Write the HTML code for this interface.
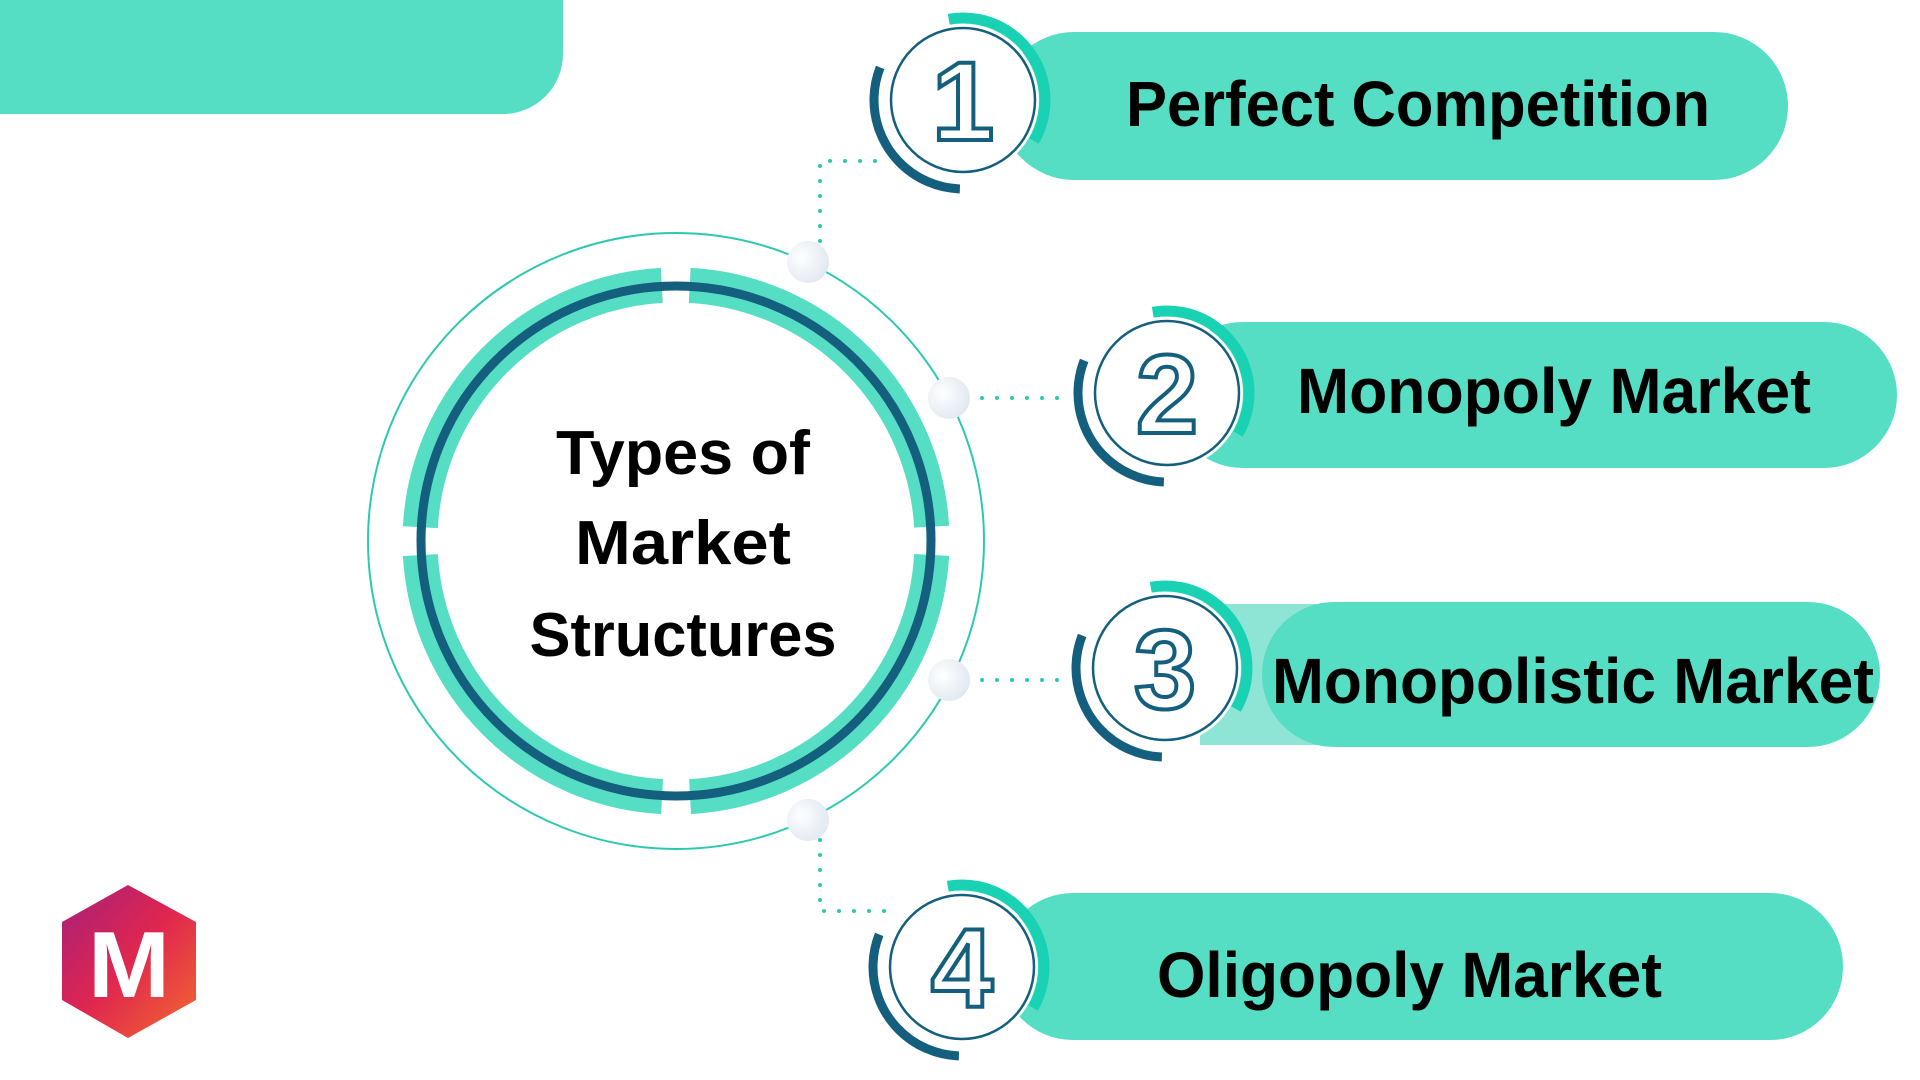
<!DOCTYPE html>
<html><head><meta charset="utf-8"><style>
html,body{margin:0;padding:0;background:#fff;width:1920px;height:1080px;overflow:hidden}
svg{display:block}
text{font-family:"Liberation Sans",sans-serif;font-weight:bold}
</style></head><body>
<svg width="1920" height="1080" viewBox="0 0 1920 1080" xmlns="http://www.w3.org/2000/svg">
<defs>
<radialGradient id="sc" cx="0.35" cy="0.4" r="0.7"><stop offset="0" stop-color="#ffffff"/><stop offset="1" stop-color="#dfe7ef"/></radialGradient>
<linearGradient id="hx" x1="0" y1="0" x2="1" y2="1"><stop offset="0" stop-color="#a61f7a"/><stop offset="0.5" stop-color="#e0264f"/><stop offset="1" stop-color="#f26a2e"/></linearGradient>
</defs>
<rect x="-80" y="-60" width="643" height="174" rx="60" fill="#55dec4"/>

<rect x="1000" y="32" width="788" height="148" rx="74" fill="#55dec4"/>
<rect x="1170" y="322" width="727" height="146" rx="73" fill="#55dec4"/>
<rect x="1200" y="604" width="300" height="141" fill="#8ee5d5"/>
<rect x="1262" y="602" width="618" height="145" rx="72" fill="#55dec4"/>
<rect x="1000" y="893" width="843" height="147" rx="73" fill="#55dec4"/>

<circle cx="676" cy="541" r="308" fill="none" stroke="#2cc9b0" stroke-width="2"/>
<circle cx="676" cy="541" r="256" fill="none" stroke="#55dec4" stroke-width="35" stroke-dasharray="374 28" stroke-dashoffset="-14"/>
<circle cx="676" cy="541" r="255" fill="none" stroke="#145f7e" stroke-width="9"/>
<circle cx="676" cy="541" r="238" fill="#fff"/>

<g stroke="#2cc9b0" stroke-width="4" stroke-linecap="round" stroke-dasharray="0 15" fill="none">
<path d="M820 241 V161 H890"/>
<path d="M820 840 V911 H890"/>
<path d="M982 398 H1068"/>
<path d="M982 680 H1068"/>
</g>
<circle cx="808" cy="262" r="21" fill="url(#sc)"/>
<circle cx="949" cy="398" r="21" fill="url(#sc)"/>
<circle cx="949" cy="680" r="21" fill="url(#sc)"/>
<circle cx="808" cy="820" r="21" fill="url(#sc)"/>

<g transform="translate(963,100)">
<circle r="76" fill="#fff"/>
<circle r="72" fill="none" stroke="#145f7e" stroke-width="2.5"/>
<circle r="82" fill="none" stroke="#19d2b4" stroke-width="11" stroke-dasharray="186 400" transform="rotate(-100)"/>
<circle r="89" fill="none" stroke="#145f7e" stroke-width="9" stroke-dasharray="170 420" transform="rotate(92)"/>
<text x="0" y="40" text-anchor="middle" font-size="112" fill="#fff" stroke="#145f7e" stroke-width="4">1</text>
</g>
<g transform="translate(1167,393)">
<circle r="76" fill="#fff"/>
<circle r="72" fill="none" stroke="#145f7e" stroke-width="2.5"/>
<circle r="82" fill="none" stroke="#19d2b4" stroke-width="11" stroke-dasharray="186 400" transform="rotate(-100)"/>
<circle r="89" fill="none" stroke="#145f7e" stroke-width="9" stroke-dasharray="170 420" transform="rotate(92)"/>
<text x="0" y="40" text-anchor="middle" font-size="112" fill="#fff" stroke="#145f7e" stroke-width="4">2</text>
</g>
<g transform="translate(1165,668)">
<circle r="76" fill="#fff"/>
<circle r="72" fill="none" stroke="#145f7e" stroke-width="2.5"/>
<circle r="82" fill="none" stroke="#19d2b4" stroke-width="11" stroke-dasharray="186 400" transform="rotate(-100)"/>
<circle r="89" fill="none" stroke="#145f7e" stroke-width="9" stroke-dasharray="170 420" transform="rotate(92)"/>
<text x="0" y="40" text-anchor="middle" font-size="112" fill="#fff" stroke="#145f7e" stroke-width="4">3</text>
</g>
<g transform="translate(962,967)">
<circle r="76" fill="#fff"/>
<circle r="72" fill="none" stroke="#145f7e" stroke-width="2.5"/>
<circle r="82" fill="none" stroke="#19d2b4" stroke-width="11" stroke-dasharray="186 400" transform="rotate(-100)"/>
<circle r="89" fill="none" stroke="#145f7e" stroke-width="9" stroke-dasharray="170 420" transform="rotate(92)"/>
<text x="0" y="40" text-anchor="middle" font-size="112" fill="#fff" stroke="#145f7e" stroke-width="4">4</text>
</g>

<g fill="#000" font-size="64">
<text x="1126" y="126" textLength="584" lengthAdjust="spacingAndGlyphs">Perfect Competition</text>
<text x="1297" y="413" textLength="514" lengthAdjust="spacingAndGlyphs">Monopoly Market</text>
<text x="1272" y="703" textLength="602" lengthAdjust="spacingAndGlyphs">Monopolistic Market</text>
<text x="1157" y="997" textLength="505" lengthAdjust="spacingAndGlyphs">Oligopoly Market</text>
</g>

<g fill="#000" font-size="62" text-anchor="middle">
<text x="683" y="474" textLength="254" lengthAdjust="spacingAndGlyphs">Types of</text>
<text x="683" y="564" textLength="216" lengthAdjust="spacingAndGlyphs">Market</text>
<text x="683" y="656" textLength="307" lengthAdjust="spacingAndGlyphs">Structures</text>
</g>

<polygon points="128,885 196,922 196,1000 128,1038 62,1000 62,922" fill="url(#hx)"/>
<text x="129" y="997" text-anchor="middle" font-size="94" fill="#fff" textLength="82" lengthAdjust="spacingAndGlyphs">M</text>
</svg>
</body></html>
